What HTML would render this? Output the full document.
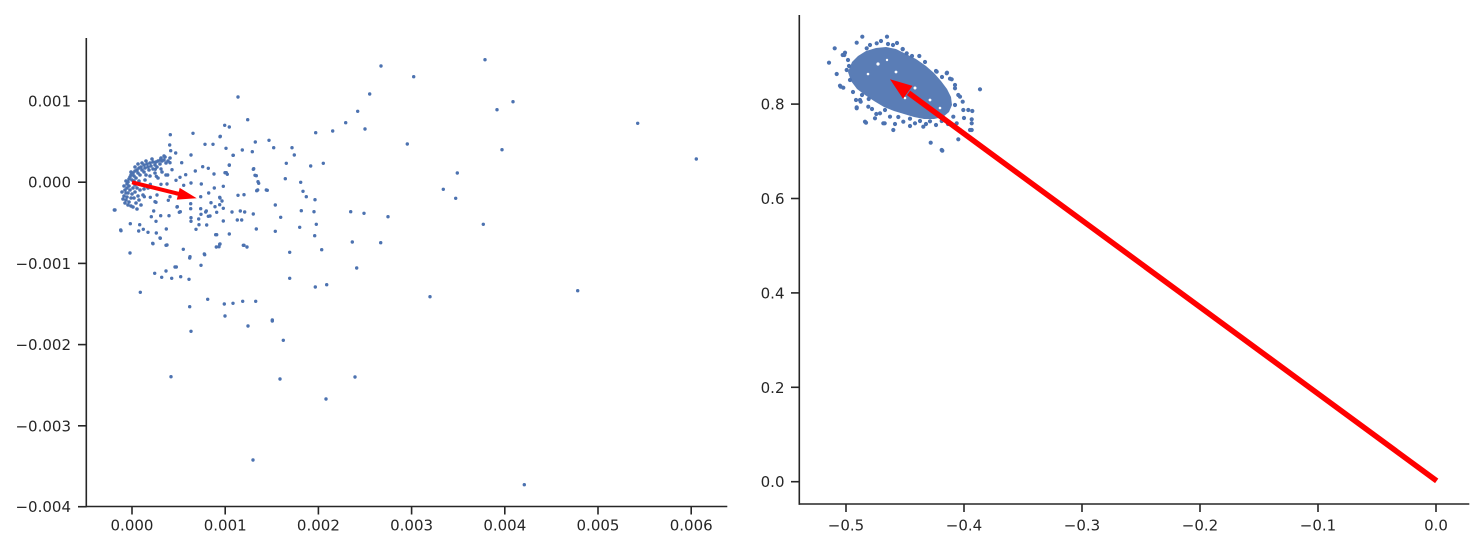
<!DOCTYPE html>
<html><head><meta charset="utf-8"><style>
html,body{margin:0;padding:0;background:#fff;}
svg{display:block;}
text{font-family:"DejaVu Sans","Liberation Sans",sans-serif;font-size:15px;fill:#262626;}
</style></head><body>
<svg width="1482" height="547" viewBox="0 0 1482 547" xmlns="http://www.w3.org/2000/svg">
<rect width="1482" height="547" fill="#fff"/>
<g stroke="#262626" stroke-width="1.6" fill="none">
<line x1="86.3" y1="38" x2="86.3" y2="507.3"/>
<line x1="85.5" y1="506.5" x2="727.3" y2="506.5"/>
<line x1="78" y1="101" x2="86.3" y2="101"/>
<line x1="78" y1="182.2" x2="86.3" y2="182.2"/>
<line x1="78" y1="263.4" x2="86.3" y2="263.4"/>
<line x1="78" y1="344.6" x2="86.3" y2="344.6"/>
<line x1="78" y1="425.8" x2="86.3" y2="425.8"/>
<line x1="78" y1="506.7" x2="86.3" y2="506.7"/>
<line x1="132" y1="506.5" x2="132" y2="514.5"/>
<line x1="225.2" y1="506.5" x2="225.2" y2="514.5"/>
<line x1="318.4" y1="506.5" x2="318.4" y2="514.5"/>
<line x1="411.6" y1="506.5" x2="411.6" y2="514.5"/>
<line x1="504.8" y1="506.5" x2="504.8" y2="514.5"/>
<line x1="598" y1="506.5" x2="598" y2="514.5"/>
<line x1="691.2" y1="506.5" x2="691.2" y2="514.5"/>
</g>
<g text-anchor="end">
<text x="71" y="106.5">0.001</text>
<text x="71" y="187.7">0.000</text>
<text x="71" y="268.9">−0.001</text>
<text x="71" y="350.1">−0.002</text>
<text x="71" y="431.3">−0.003</text>
<text x="71" y="512.2">−0.004</text>
</g>
<g text-anchor="middle">
<text x="132" y="530.5">0.000</text>
<text x="225.2" y="530.5">0.001</text>
<text x="318.4" y="530.5">0.002</text>
<text x="411.6" y="530.5">0.003</text>
<text x="504.8" y="530.5">0.004</text>
<text x="598" y="530.5">0.005</text>
<text x="691.2" y="530.5">0.006</text>
</g>
<g fill="#4c72b0">
<circle cx="485" cy="59.7" r="1.7"/><circle cx="413.7" cy="76.7" r="1.7"/><circle cx="513" cy="101.7" r="1.7"/><circle cx="497" cy="109.7" r="1.7"/>
<circle cx="637.7" cy="123.3" r="1.7"/><circle cx="407.3" cy="144" r="1.7"/><circle cx="502" cy="149.7" r="1.7"/><circle cx="696.3" cy="159" r="1.7"/>
<circle cx="457.3" cy="173" r="1.7"/><circle cx="443.3" cy="189.3" r="1.7"/><circle cx="455.7" cy="198.3" r="1.7"/><circle cx="483.3" cy="224.3" r="1.7"/>
<circle cx="430" cy="296.7" r="1.7"/><circle cx="577.7" cy="290.7" r="1.7"/><circle cx="524.3" cy="484.7" r="1.7"/><circle cx="381" cy="66" r="1.7"/>
<circle cx="369.7" cy="94" r="1.7"/><circle cx="238" cy="97" r="1.7"/><circle cx="357.7" cy="111.3" r="1.7"/><circle cx="247.7" cy="119.7" r="1.7"/>
<circle cx="345.7" cy="122.7" r="1.7"/><circle cx="224.7" cy="125.3" r="1.7"/><circle cx="229.3" cy="127" r="1.7"/><circle cx="365" cy="129" r="1.7"/>
<circle cx="332.7" cy="131" r="1.7"/><circle cx="315.7" cy="132.7" r="1.7"/><circle cx="220" cy="136.7" r="1.7"/><circle cx="255.3" cy="142" r="1.7"/>
<circle cx="269" cy="140.3" r="1.7"/><circle cx="226" cy="148.3" r="1.7"/><circle cx="242.3" cy="150" r="1.7"/><circle cx="252.3" cy="151.7" r="1.7"/>
<circle cx="273.7" cy="147.7" r="1.7"/><circle cx="292" cy="147.7" r="1.7"/><circle cx="294.3" cy="155" r="1.7"/><circle cx="233" cy="155.3" r="1.7"/>
<circle cx="286.3" cy="163.3" r="1.7"/><circle cx="310.7" cy="166" r="1.7"/><circle cx="323.3" cy="163.3" r="1.7"/><circle cx="229.3" cy="165" r="1.7"/>
<circle cx="253.7" cy="168.7" r="1.7"/><circle cx="225" cy="172.7" r="1.7"/><circle cx="227.3" cy="174.3" r="1.7"/><circle cx="256.3" cy="175.7" r="1.7"/>
<circle cx="285.3" cy="178.7" r="1.7"/><circle cx="223.3" cy="186.3" r="1.7"/><circle cx="300.7" cy="182.3" r="1.7"/><circle cx="258.7" cy="183.3" r="1.7"/>
<circle cx="257.7" cy="190" r="1.7"/><circle cx="266.3" cy="190" r="1.7"/><circle cx="303" cy="191.3" r="1.7"/><circle cx="306.3" cy="196.7" r="1.7"/>
<circle cx="315" cy="199.7" r="1.7"/><circle cx="238" cy="195.3" r="1.7"/><circle cx="244" cy="194.7" r="1.7"/><circle cx="220" cy="198" r="1.7"/>
<circle cx="222" cy="201" r="1.7"/><circle cx="275.3" cy="205" r="1.7"/><circle cx="280.7" cy="217.3" r="1.7"/><circle cx="232" cy="212" r="1.7"/>
<circle cx="240.3" cy="211" r="1.7"/><circle cx="244.7" cy="212" r="1.7"/><circle cx="253.3" cy="214" r="1.7"/><circle cx="314" cy="211.7" r="1.7"/>
<circle cx="301.3" cy="210.7" r="1.7"/><circle cx="350.7" cy="211.7" r="1.7"/><circle cx="364" cy="213.3" r="1.7"/><circle cx="388" cy="216.7" r="1.7"/>
<circle cx="223.3" cy="221" r="1.7"/><circle cx="237.3" cy="220" r="1.7"/><circle cx="241.7" cy="220" r="1.7"/><circle cx="316.3" cy="224.3" r="1.7"/>
<circle cx="229.3" cy="234" r="1.7"/><circle cx="256.3" cy="229" r="1.7"/><circle cx="275.3" cy="231.3" r="1.7"/><circle cx="299.7" cy="227.3" r="1.7"/>
<circle cx="314.7" cy="235.7" r="1.7"/><circle cx="220" cy="244" r="1.7"/><circle cx="243.3" cy="245.3" r="1.7"/><circle cx="247" cy="247" r="1.7"/>
<circle cx="289.7" cy="252.3" r="1.7"/><circle cx="321.7" cy="249.7" r="1.7"/><circle cx="352.3" cy="242" r="1.7"/><circle cx="380.7" cy="242.7" r="1.7"/>
<circle cx="356.7" cy="268" r="1.7"/><circle cx="289.7" cy="278.3" r="1.7"/><circle cx="315.3" cy="287" r="1.7"/><circle cx="326.7" cy="284.7" r="1.7"/>
<circle cx="224.3" cy="304" r="1.7"/><circle cx="233" cy="303.3" r="1.7"/><circle cx="242.7" cy="301.3" r="1.7"/><circle cx="255.7" cy="301.3" r="1.7"/>
<circle cx="225" cy="316" r="1.7"/><circle cx="272.3" cy="320" r="1.7"/><circle cx="114.3" cy="210" r="1.7"/><circle cx="121" cy="230.7" r="1.7"/>
<circle cx="130" cy="253" r="1.7"/><circle cx="130.3" cy="223.7" r="1.7"/><circle cx="138.7" cy="231" r="1.7"/><circle cx="143.3" cy="229.3" r="1.7"/>
<circle cx="148" cy="232.3" r="1.7"/><circle cx="156.3" cy="233" r="1.7"/><circle cx="153" cy="243.7" r="1.7"/><circle cx="160.3" cy="238.3" r="1.7"/>
<circle cx="166.3" cy="229" r="1.7"/><circle cx="166" cy="245.3" r="1.7"/><circle cx="183.3" cy="249.3" r="1.7"/><circle cx="189.7" cy="258" r="1.7"/>
<circle cx="204.3" cy="254" r="1.7"/><circle cx="201" cy="265.3" r="1.7"/><circle cx="196" cy="229.3" r="1.7"/><circle cx="199" cy="224.7" r="1.7"/>
<circle cx="216.7" cy="234.7" r="1.7"/><circle cx="216.3" cy="247" r="1.7"/><circle cx="219.7" cy="244.3" r="1.7"/><circle cx="154.7" cy="273.3" r="1.7"/>
<circle cx="161.7" cy="277.3" r="1.7"/><circle cx="166" cy="271" r="1.7"/><circle cx="171.7" cy="278.3" r="1.7"/><circle cx="175" cy="267" r="1.7"/>
<circle cx="176.3" cy="267" r="1.7"/><circle cx="180.7" cy="276.7" r="1.7"/><circle cx="189" cy="279.3" r="1.7"/><circle cx="140.3" cy="292.3" r="1.7"/>
<circle cx="189.7" cy="306.7" r="1.7"/><circle cx="207.7" cy="299.3" r="1.7"/><circle cx="191" cy="331.3" r="1.7"/><circle cx="171" cy="376.7" r="1.7"/>
<circle cx="280" cy="379" r="1.7"/><circle cx="355" cy="377" r="1.7"/><circle cx="326" cy="399" r="1.7"/><circle cx="248" cy="326" r="1.7"/>
<circle cx="272.3" cy="321" r="1.7"/><circle cx="283.3" cy="340.3" r="1.7"/><circle cx="253" cy="460" r="1.7"/><circle cx="211" cy="202.7" r="1.7"/>
<circle cx="219.7" cy="204.7" r="1.7"/><circle cx="216.7" cy="212.3" r="1.7"/><circle cx="206.3" cy="211" r="1.7"/><circle cx="208.3" cy="216.3" r="1.7"/>
<circle cx="198.7" cy="219" r="1.7"/><circle cx="191" cy="217.7" r="1.7"/><circle cx="191" cy="221.3" r="1.7"/><circle cx="201" cy="214.3" r="1.7"/>
<circle cx="190.7" cy="203.7" r="1.7"/><circle cx="169" cy="215.7" r="1.7"/><circle cx="160.7" cy="215.7" r="1.7"/><circle cx="156" cy="221.3" r="1.7"/>
<circle cx="151.3" cy="216.7" r="1.7"/><circle cx="153.7" cy="211" r="1.7"/><circle cx="156" cy="202.3" r="1.7"/><circle cx="177.3" cy="206.7" r="1.7"/>
<circle cx="179.3" cy="212.3" r="1.7"/><circle cx="170.3" cy="134.7" r="1.7"/><circle cx="193" cy="133.3" r="1.7"/><circle cx="169.7" cy="145" r="1.7"/>
<circle cx="170.7" cy="150.7" r="1.7"/><circle cx="175.7" cy="153" r="1.7"/><circle cx="191" cy="155" r="1.7"/><circle cx="205" cy="144.3" r="1.7"/>
<circle cx="213" cy="144.3" r="1.7"/><circle cx="220.3" cy="136.3" r="1.7"/><circle cx="233.3" cy="155.3" r="1.7"/><circle cx="164" cy="156" r="1.7"/>
<circle cx="170" cy="162.7" r="1.7"/><circle cx="181.7" cy="162.7" r="1.7"/><circle cx="160.3" cy="160" r="1.7"/><circle cx="161" cy="169" r="1.7"/>
<circle cx="172" cy="169.7" r="1.7"/><circle cx="155.3" cy="169.3" r="1.7"/><circle cx="156.3" cy="176.3" r="1.7"/><circle cx="167.7" cy="175" r="1.7"/>
<circle cx="180" cy="177.3" r="1.7"/><circle cx="185.7" cy="174.7" r="1.7"/><circle cx="195.3" cy="171" r="1.7"/><circle cx="202.7" cy="166.7" r="1.7"/>
<circle cx="208.3" cy="168.3" r="1.7"/><circle cx="214" cy="174" r="1.7"/><circle cx="226.3" cy="172.7" r="1.7"/><circle cx="229.3" cy="165.3" r="1.7"/>
<circle cx="253.3" cy="169.3" r="1.7"/><circle cx="255" cy="175.3" r="1.7"/><circle cx="258" cy="181.7" r="1.7"/><circle cx="267.3" cy="190.3" r="1.7"/>
<circle cx="256.7" cy="190.7" r="1.7"/><circle cx="219.7" cy="197.3" r="1.7"/><circle cx="214.3" cy="188" r="1.7"/><circle cx="208.7" cy="193" r="1.7"/>
<circle cx="200.7" cy="196.7" r="1.7"/><circle cx="191" cy="183" r="1.7"/><circle cx="201.3" cy="184" r="1.7"/><circle cx="183.7" cy="185.3" r="1.7"/>
<circle cx="176" cy="180.3" r="1.7"/><circle cx="167" cy="184" r="1.7"/><circle cx="161" cy="184.3" r="1.7"/><circle cx="150.3" cy="184.3" r="1.7"/>
<circle cx="176.7" cy="193.7" r="1.7"/><circle cx="170" cy="196.7" r="1.7"/><circle cx="168.3" cy="200.3" r="1.7"/><circle cx="179.3" cy="196.7" r="1.7"/>
<circle cx="186" cy="196.7" r="1.7"/><circle cx="157" cy="195" r="1.7"/><circle cx="155" cy="201.7" r="1.7"/><circle cx="150.3" cy="197.3" r="1.7"/>
<circle cx="144.3" cy="196.7" r="1.7"/><circle cx="177" cy="207" r="1.7"/><circle cx="180.3" cy="211.7" r="1.7"/><circle cx="190.7" cy="208.7" r="1.7"/>
<circle cx="200.7" cy="208.7" r="1.7"/><circle cx="205.7" cy="212" r="1.7"/><circle cx="210" cy="216" r="1.7"/><circle cx="215" cy="206.7" r="1.7"/>
<circle cx="223.3" cy="208.3" r="1.7"/><circle cx="206.7" cy="225" r="1.7"/><circle cx="215.7" cy="234.7" r="1.7"/><circle cx="219" cy="246.7" r="1.7"/>
<circle cx="204.7" cy="254.7" r="1.7"/><circle cx="190" cy="256.7" r="1.7"/><circle cx="167" cy="245" r="1.7"/><circle cx="160" cy="238" r="1.7"/>
<circle cx="152.7" cy="243.3" r="1.7"/><circle cx="139.7" cy="224.7" r="1.7"/><circle cx="120.7" cy="230" r="1.7"/><circle cx="115" cy="210" r="1.7"/>
<circle cx="244" cy="245.3" r="1.7"/>
<circle cx="128" cy="182" r="1.8"/><circle cx="129" cy="179" r="1.8"/><circle cx="130" cy="177" r="1.8"/><circle cx="131" cy="175" r="1.8"/>
<circle cx="133" cy="173" r="1.8"/><circle cx="134" cy="176" r="1.8"/><circle cx="135" cy="171" r="1.8"/><circle cx="137" cy="170" r="1.8"/>
<circle cx="138" cy="173" r="1.8"/><circle cx="139" cy="168" r="1.8"/><circle cx="141" cy="167" r="1.8"/><circle cx="142" cy="170" r="1.8"/>
<circle cx="144" cy="165" r="1.8"/><circle cx="145" cy="168" r="1.8"/><circle cx="147" cy="164" r="1.8"/><circle cx="148" cy="167" r="1.8"/>
<circle cx="150" cy="163" r="1.8"/><circle cx="151" cy="166" r="1.8"/><circle cx="153" cy="162" r="1.8"/><circle cx="155" cy="165" r="1.8"/>
<circle cx="156" cy="162" r="1.8"/><circle cx="158" cy="161" r="1.8"/><circle cx="160" cy="164" r="1.8"/><circle cx="162" cy="161" r="1.8"/>
<circle cx="164" cy="160" r="1.8"/><circle cx="166" cy="163" r="1.8"/><circle cx="168" cy="161" r="1.8"/><circle cx="136" cy="178" r="1.8"/>
<circle cx="140" cy="175" r="1.8"/><circle cx="144" cy="172" r="1.8"/><circle cx="132" cy="180" r="1.8"/><circle cx="134" cy="181" r="1.8"/>
<circle cx="149" cy="170" r="1.8"/><circle cx="153" cy="169" r="1.8"/><circle cx="157" cy="167" r="1.8"/><circle cx="161" cy="158" r="1.8"/>
<circle cx="165" cy="157" r="1.8"/><circle cx="170" cy="158" r="1.8"/><circle cx="146" cy="161" r="1.8"/><circle cx="138" cy="164" r="1.8"/>
<circle cx="124" cy="186" r="1.8"/><circle cx="125" cy="190" r="1.8"/><circle cx="126" cy="193" r="1.8"/><circle cx="124" cy="196" r="1.8"/>
<circle cx="127" cy="188" r="1.8"/><circle cx="129" cy="186" r="1.8"/><circle cx="127" cy="197" r="1.8"/><circle cx="126" cy="200" r="1.8"/>
<circle cx="129" cy="202" r="1.8"/><circle cx="131" cy="198" r="1.8"/><circle cx="128" cy="193" r="1.8"/><circle cx="130" cy="190" r="1.8"/>
<circle cx="133" cy="188" r="1.8"/><circle cx="132" cy="194" r="1.8"/><circle cx="135" cy="192" r="1.8"/><circle cx="134" cy="198" r="1.8"/>
<circle cx="128" cy="205" r="1.8"/><circle cx="131" cy="206" r="1.8"/><circle cx="125" cy="203" r="1.8"/><circle cx="123" cy="199" r="1.8"/>
<circle cx="136" cy="203" r="1.8"/><circle cx="138" cy="196" r="1.8"/><circle cx="137" cy="188" r="1.8"/><circle cx="135" cy="185" r="1.8"/>
<circle cx="140" cy="190" r="1.8"/><circle cx="133" cy="207" r="1.8"/><circle cx="122" cy="192" r="1.8"/><circle cx="139" cy="200" r="1.8"/>
<circle cx="141" cy="205" r="1.8"/><circle cx="143" cy="195" r="1.8"/><circle cx="145" cy="180" r="1.8"/><circle cx="150" cy="176" r="1.8"/>
<circle cx="155" cy="173" r="1.8"/><circle cx="158" cy="178" r="1.8"/><circle cx="162" cy="172" r="1.8"/><circle cx="166" cy="175" r="1.8"/>
<circle cx="142" cy="185" r="1.8"/><circle cx="148" cy="188" r="1.8"/><circle cx="127" cy="184" r="1.8"/><circle cx="126" cy="181" r="1.8"/>
<circle cx="131" cy="172" r="1.8"/><circle cx="135" cy="167" r="1.8"/><circle cx="142" cy="163" r="1.8"/><circle cx="152" cy="159" r="1.8"/>
<circle cx="146" cy="175" r="1.8"/><circle cx="139" cy="181" r="1.8"/><circle cx="144" cy="189" r="1.8"/><circle cx="137" cy="209" r="1.8"/>
</g>
<line x1="132" y1="182.3" x2="179" y2="193.9" stroke="#ff0000" stroke-width="4"/>
<polygon points="196.7,198.3 176.8,199.6 179.7,187.9" fill="#ff0000"/>
<g stroke="#262626" stroke-width="1.6" fill="none">
<line x1="799.3" y1="15" x2="799.3" y2="504.8"/>
<line x1="798.5" y1="504" x2="1469.3" y2="504"/>
<line x1="791" y1="481.7" x2="799.3" y2="481.7"/>
<line x1="791" y1="387.3" x2="799.3" y2="387.3"/>
<line x1="791" y1="292.9" x2="799.3" y2="292.9"/>
<line x1="791" y1="198.5" x2="799.3" y2="198.5"/>
<line x1="791" y1="104.1" x2="799.3" y2="104.1"/>
<line x1="846" y1="504" x2="846" y2="512"/>
<line x1="964" y1="504" x2="964" y2="512"/>
<line x1="1082" y1="504" x2="1082" y2="512"/>
<line x1="1200" y1="504" x2="1200" y2="512"/>
<line x1="1318" y1="504" x2="1318" y2="512"/>
<line x1="1436" y1="504" x2="1436" y2="512"/>
</g>
<g text-anchor="end">
<text x="784.5" y="487.2">0.0</text>
<text x="784.5" y="392.8">0.2</text>
<text x="784.5" y="298.4">0.4</text>
<text x="784.5" y="204">0.6</text>
<text x="784.5" y="109.6">0.8</text>
</g>
<g text-anchor="middle">
<text x="846" y="530.5">−0.5</text>
<text x="964" y="530.5">−0.4</text>
<text x="1082" y="530.5">−0.3</text>
<text x="1200" y="530.5">−0.2</text>
<text x="1318" y="530.5">−0.1</text>
<text x="1436" y="530.5">0.0</text>
</g>
<g fill="#4c72b0">
<path d="M852,62 L858,56 L866,51 L876,48 L886,47 L896,49 L906,54 L916,59 L926,66 L934,73 L941,81 L947,89 L951,97 L952,105 L949,112 L943,117 L934,119 L924,119 L914,117 L904,114 L894,111 L884,107 L874,101 L865,95 L857,89 L851,81 L848,72 Z" opacity="0.92"/>
<circle cx="862.3" cy="36.7" r="2.1"/><circle cx="887" cy="36.7" r="2.1"/><circle cx="888" cy="44" r="2.1"/><circle cx="834.7" cy="48.3" r="2.1"/>
<circle cx="845" cy="52.7" r="2.1"/><circle cx="844.3" cy="55" r="2.1"/><circle cx="829" cy="62.7" r="2.1"/><circle cx="836.7" cy="74" r="2.1"/>
<circle cx="840" cy="85.7" r="2.1"/><circle cx="843.3" cy="87.7" r="2.1"/><circle cx="980" cy="89.3" r="2.1"/><circle cx="860" cy="100" r="2.1"/>
<circle cx="860.7" cy="101.7" r="2.1"/><circle cx="856.7" cy="107.3" r="2.1"/><circle cx="868.7" cy="99" r="2.1"/><circle cx="866" cy="122.7" r="2.1"/>
<circle cx="876.3" cy="114" r="2.1"/><circle cx="884.7" cy="123.3" r="2.1"/><circle cx="893.3" cy="130" r="2.1"/><circle cx="930.7" cy="142.7" r="2.1"/>
<circle cx="942.3" cy="150.7" r="2.1"/><circle cx="958.3" cy="139.3" r="2.1"/><circle cx="970" cy="130" r="2.1"/><circle cx="971.7" cy="123.3" r="2.1"/>
<circle cx="972.3" cy="111" r="2.1"/><circle cx="963.3" cy="110" r="2.1"/><circle cx="960" cy="96.7" r="2.1"/><circle cx="955" cy="88.3" r="2.1"/>
<circle cx="950" cy="78.7" r="2.1"/><circle cx="947" cy="72.7" r="2.1"/><circle cx="936" cy="71" r="2.1"/><circle cx="919.3" cy="56" r="2.1"/>
<circle cx="906.7" cy="53.3" r="2.1"/><circle cx="902.7" cy="49" r="2.1"/><circle cx="856.7" cy="42.7" r="2.1"/>
<circle cx="842.7" cy="55" r="2.1"/><circle cx="840.7" cy="86.7" r="2.1"/><circle cx="866.7" cy="48.3" r="2.1"/><circle cx="876.7" cy="43.3" r="2.1"/>
<circle cx="902.7" cy="49.3" r="2.1"/><circle cx="936.7" cy="71.7" r="2.1"/><circle cx="946.7" cy="73.3" r="2.1"/><circle cx="951.7" cy="79.3" r="2.1"/>
<circle cx="955" cy="85" r="2.1"/><circle cx="958.3" cy="95" r="2.1"/><circle cx="962.7" cy="101.7" r="2.1"/><circle cx="968.3" cy="110" r="2.1"/>
<circle cx="971.7" cy="119.3" r="2.1"/><circle cx="971.7" cy="130" r="2.1"/><circle cx="960" cy="130" r="2.1"/><circle cx="956.7" cy="123.3" r="2.1"/>
<circle cx="953.3" cy="116.7" r="2.1"/><circle cx="941.7" cy="121" r="2.1"/><circle cx="941.7" cy="150" r="2.1"/><circle cx="923.3" cy="126.7" r="2.1"/>
<circle cx="915" cy="123.3" r="2.1"/><circle cx="903.3" cy="121.7" r="2.1"/><circle cx="883.3" cy="123.3" r="2.1"/><circle cx="875" cy="118.3" r="2.1"/>
<circle cx="865" cy="121.7" r="2.1"/><circle cx="856.7" cy="108.3" r="2.1"/><circle cx="856" cy="100" r="2.1"/><circle cx="868.3" cy="106.7" r="2.1"/>
<circle cx="880" cy="113.3" r="2.1"/><circle cx="890" cy="116.7" r="2.1"/><circle cx="898.3" cy="117" r="2.1"/><circle cx="910" cy="118.7" r="2.1"/>
<circle cx="920" cy="121" r="2.1"/><circle cx="930" cy="121.3" r="2.1"/><circle cx="846.7" cy="70" r="2.1"/><circle cx="850" cy="80" r="2.1"/>
<circle cx="848" cy="60" r="2.1"/><circle cx="870" cy="45" r="2.1"/><circle cx="893" cy="45" r="2.1"/><circle cx="912" cy="56" r="2.1"/>
<circle cx="885" cy="110" r="2.1"/><circle cx="926" cy="124" r="2.1"/><circle cx="936" cy="125" r="2.1"/><circle cx="964" cy="118" r="2.1"/>
<circle cx="853" cy="92" r="2.1"/><circle cx="849" cy="66" r="2.1"/><circle cx="881" cy="41" r="2.1"/><circle cx="897" cy="43" r="2.1"/>
<circle cx="925" cy="62" r="2.1"/><circle cx="942" cy="77" r="2.1"/><circle cx="955" cy="105" r="2.1"/><circle cx="948" cy="124" r="2.1"/>
<circle cx="872" cy="109" r="2.1"/><circle cx="862" cy="95" r="2.1"/><circle cx="910" cy="126" r="2.1"/><circle cx="895" cy="124" r="2.1"/>
</g>
<g fill="#ffffff">
<circle cx="878" cy="64" r="1.6"/><circle cx="896" cy="72" r="1.4"/><circle cx="915" cy="88" r="1.5"/><circle cx="868" cy="74" r="1.3"/>
<circle cx="930" cy="100" r="1.4"/><circle cx="905" cy="98" r="1.3"/><circle cx="887" cy="60" r="1.2"/><circle cx="940" cy="108" r="1.3"/>
</g>
<line x1="1436.7" y1="480.9" x2="908.5" y2="92.9" stroke="#ff0000" stroke-width="5.5"/>
<polygon points="890,79.3 912.5,85.9 903,98.8" fill="#ff0000"/>
</svg>
</body></html>
